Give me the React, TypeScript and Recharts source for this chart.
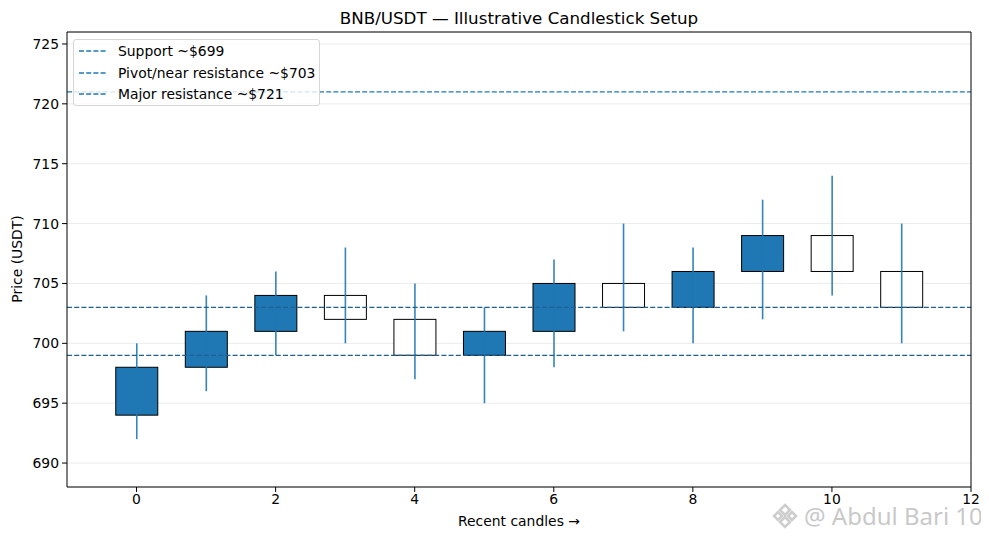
import React from 'react';
import { ComposedChart, Bar, XAxis, YAxis, CartesianGrid, ReferenceLine } from 'recharts';

const categories = [0, 1, 2, 3, 4, 5, 6, 7, 8, 9, 10, 11];
const opens = [694, 698, 701, 704, 702, 699, 701, 705, 703, 706, 709, 706];
const closes = [698, 701, 704, 702, 699, 701, 705, 703, 706, 709, 706, 703];
const highs = [700, 704, 706, 708, 705, 703, 707, 710, 708, 712, 714, 710];
const lows = [692, 696, 699, 700, 697, 695, 698, 701, 700, 702, 704, 700];

const xTicks = [0, 2, 4, 6, 8, 10, 12];
const yTicks = [690, 695, 700, 705, 710, 715, 720, 725];

const levelValues = [699, 703, 721];
const levelLabels = ['Support ~$699', 'Pivot/near resistance ~$703', 'Major resistance ~$721'];
const levelColors = ['#1f5f92', '#1f5f92', '#1f77b4'];

const data = categories.map((c, i) => ({
  x: c,
  open: opens[i],
  close: closes[i],
  high: highs[i],
  low: lows[i],
  range: [lows[i], highs[i]],
}));

const FONT = 'DejaVu Sans, sans-serif';
const BLUE = '#1f77b4';

const Candle = (props: any) => {
  const { x, y, width, height, payload } = props;
  if (payload == null || height == null) return null;
  const { open, close, high, low } = payload;
  const span = high - low;
  const yOf = (v: number) => y + ((high - v) / span) * height;
  const cx = x + width / 2;
  const top = yOf(Math.max(open, close));
  const bot = yOf(Math.min(open, close));
  const up = close > open;
  return (
    <g>
      <rect x={x} y={top} width={width} height={bot - top} fill={up ? BLUE : '#ffffff'} stroke="#000" strokeWidth={1} />
      <line x1={cx} x2={cx} y1={y} y2={y + height} stroke={BLUE} strokeWidth={1.6} strokeOpacity={0.9} />
    </g>
  );
};

export default function App() {
  return (
    <div style={{ position: 'relative', width: 989, height: 540, margin: -8, background: '#fff', fontFamily: FONT }}>
      <ComposedChart width={989} height={540} data={data} margin={{ top: 32, right: 18, left: 0, bottom: 0 }}>
        <CartesianGrid vertical={false} stroke="#ebebeb" strokeWidth={1} />
        <XAxis
          dataKey="x"
          type="number"
          domain={[-1, 12]}
          ticks={xTicks}
          allowDataOverflow
          height={53}
          stroke="#000"
          tick={{ fill: '#000', fontSize: 13.9, fontFamily: FONT }}
          tickSize={5}
          tickMargin={2}
        />
        <YAxis
          type="number"
          domain={[688, 726]}
          ticks={yTicks}
          allowDataOverflow
          width={67}
          stroke="#000"
          tick={{ fill: '#000', fontSize: 13.9, fontFamily: FONT }}
          tickSize={5}
          tickMargin={3}
        />
        {levelValues.map((v, i) => (
          <ReferenceLine key={v} y={v} stroke={levelColors[i]} strokeWidth={1.2} strokeDasharray="5 2.2" />
        ))}
        <Bar dataKey="range" barSize={42} shape={<Candle />} isAnimationActive={false} />
        <ReferenceLine y={726} stroke="#000" strokeWidth={1} />
        <ReferenceLine x={12} stroke="#000" strokeWidth={1} />
      </ComposedChart>

      <div style={{ position: 'absolute', left: 67, width: 904, top: 8, textAlign: 'center', fontSize: 16.7, color: '#000' }}>
        BNB/USDT — Illustrative Candlestick Setup
      </div>
      <div style={{ position: 'absolute', left: 67, width: 904, top: 513, textAlign: 'center', fontSize: 13.9, color: '#000' }}>
        Recent candles →
      </div>
      <div
        style={{
          position: 'absolute',
          left: 17,
          top: 259,
          transform: 'translate(-50%, -50%) rotate(-90deg)',
          fontSize: 13.9,
          whiteSpace: 'nowrap',
          color: '#000',
        }}
      >
        Price (USDT)
      </div>

      <div
        style={{
          position: 'absolute',
          left: 73,
          top: 39,
          width: 247,
          height: 67,
          border: '1px solid #d6d6d6',
          borderRadius: 3,
          background: 'rgba(255,255,255,0.8)',
          boxSizing: 'border-box',
          paddingTop: 0,
        }}
      >
        {levelLabels.map((label, i) => (
          <div key={label} style={{ display: 'flex', alignItems: 'center', height: 21.7, fontSize: 13.9, color: '#000' }}>
            <svg width={40} height={10} style={{ marginLeft: 4 }}>
              <line x1={1} x2={29} y1={5} y2={5} stroke={BLUE} strokeWidth={1.3} strokeDasharray="5 2.2" />
            </svg>
            <span>{label}</span>
          </div>
        ))}
      </div>

      <div
        style={{
          position: 'absolute',
          left: 770,
          top: 499,
          display: 'flex',
          alignItems: 'center',
          color: 'rgba(190,190,190,0.85)',
          fontSize: 24,
          fontFamily: 'Noto Sans, sans-serif',
          whiteSpace: 'nowrap',
        }}
      >
        <svg width={30} height={30} viewBox="0 0 30 30" style={{ marginRight: 4 }}>
          <g fill="none" stroke="rgba(200,200,200,0.9)" strokeWidth={2.5}>
            <path d="M15 4 L20 9 L15 14 L10 9 Z" />
            <path d="M8 11 L12 15 L8 19 L4 15 Z" />
            <path d="M22 11 L26 15 L22 19 L18 15 Z" />
            <path d="M15 16 L20 21 L15 26 L10 21 Z" />
          </g>
        </svg>
        <span>@ Abdul Bari 10</span>
      </div>
    </div>
  );
}
